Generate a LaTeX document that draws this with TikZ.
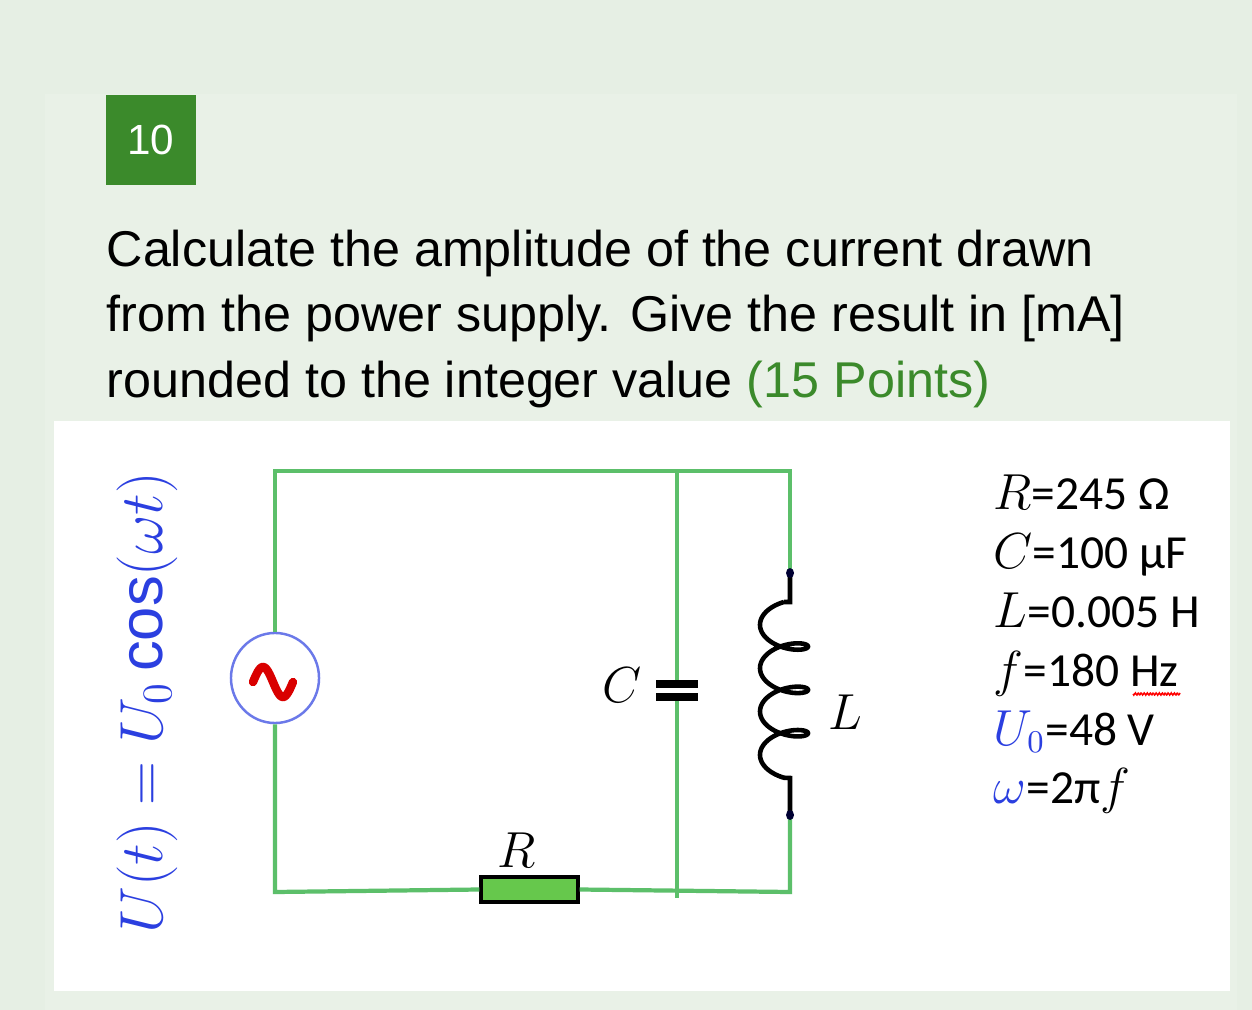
\documentclass[tikz,border=0pt]{standalone}
\usetikzlibrary{shapes.geometric}
\usepackage{fontspec}
\setmainfont{Liberation Sans}
\newfontfamily\calib{Carlito}
\definecolor{bgout}{HTML}{E6EFE4}
\definecolor{bgin}{HTML}{E9F1E7}
\definecolor{qgreen}{HTML}{3B8A2B}
\definecolor{wire}{HTML}{5CBF6A}
\definecolor{rfill}{HTML}{66C84C}
\definecolor{mblue}{HTML}{2B3FE0}
\tikzset{wirestyle/.style={draw=wire,line width=1.2pt},
  qtext/.style={anchor=base west,inner sep=0pt,font=\fontsize{14.3}{17}\selectfont},
  vtext/.style={anchor=base west,inner sep=0pt,font=\calib\fontsize{13.5}{16}\selectfont}}
\begin{document}
\begin{tikzpicture}[x=0.01cm,y=-0.01cm]
\fill[bgout] (0,0) rectangle (1252,1010);
\fill[bgin] (45,94) rectangle (1237,1010);
\fill[white] (54,421) rectangle (1230,991);
\node[fill=qgreen,minimum width=0.9cm,minimum height=0.9cm,anchor=north west,inner sep=0pt,text=white,font=\fontsize{12}{14}\selectfont] (num) at (105,94) {10};
\node[qtext] (l1) at (106,267) {Calculate the amplitude of the current drawn};
\node[qtext] (l2) at (106,332) {from the power supply. Give the result in [mA]};
\node[qtext] (l3) at (106,398) {rounded to the integer value \textcolor{qgreen}{(15 Points)}};
% circuit
\coordinate (tl) at (275,471); \coordinate (tm) at (677,471); \coordinate (tr) at (790,471);
\coordinate (bl) at (275,892); \coordinate (bm) at (677,892); \coordinate (br) at (790,892);
\node[draw=mblue!70,ellipse,minimum width=0.88cm,minimum height=0.9cm,inner sep=0pt,line width=0.7pt,fill=white] (src) at (275,678) {};
\node[draw=black,fill=rfill,minimum width=0.97cm,minimum height=0.25cm,inner sep=0pt,line width=0.9pt] (res) at (529.5,889.5) {};
\coordinate (c1) at (677,683); \coordinate (c2) at (677,698);
\coordinate (d1) at (790,573); \coordinate (d2) at (790,815);
\draw[wirestyle] (src.north) -- (tl) -- (tm) -- (tr) -- (d1);
\draw[wirestyle] (src.south) -- (bl) -- (res.west);
\draw[wirestyle] (res.east) -- (br) -- (d2);
\draw[wirestyle] (tm) -- (c1);
\draw[wirestyle] (c2) -- (677,898);
\fill[black] (656,680) rectangle (698,688);
\fill[black] (656,693) rectangle (698,701);
\draw[line width=1.3pt] (d1) -- (790,602) -- (784,602)
  plot[domain=pi/2:7.5*pi,samples=300,variable=\t] ({784+24*cos(\t r)},{602+6.9*(\t-pi/2)-12*(sin(\t r)-1)})
  -- (790,778) -- (d2);
\fill[black!80!blue] (d1) ellipse (4 and 5);
\fill[black!80!blue] (d2) ellipse (4 and 5);
\draw[red!85!black,line width=2.4pt,line cap=round] plot[domain=0:1,samples=40,variable=\s] ({253+40*\s},{682-15*sin(360*\s)});
\node[font=\fontsize{15}{17}\selectfont] (lc) at (622,685) {$C$};
\node[font=\fontsize{15}{17}\selectfont] (ll) at (845,712) {$L$};
\node[font=\fontsize{15}{17}\selectfont] (lr) at (517,850) {$R$};
\node[rotate=90,text=mblue,font=\fontsize{17.5}{20}\selectfont] (eq) at (147,703) {$U(t)=U_0\cos(\omega t)$};
% values
\node[vtext] (v1) at (993,510) {$R$=245 Ω};
\node[vtext] (v2) at (993,568) {$C$=100 µF};
\node[vtext] (v3) at (993,627) {$L$=0.005 H};
\node[vtext] (v4) at (993,686) {$f$=180 Hz};
\node[vtext] (v5) at (993,745) {\textcolor{mblue}{$U_0$}=48 V};
\node[vtext] (v6) at (993,803) {\textcolor{mblue}{$\omega$}=2π$f$};
\draw[red,line width=0.4pt] plot[domain=0:47,samples=60,variable=\s] ({1133+\s},{694+1.2*sin(\s*120)});
\end{tikzpicture}
\end{document}
